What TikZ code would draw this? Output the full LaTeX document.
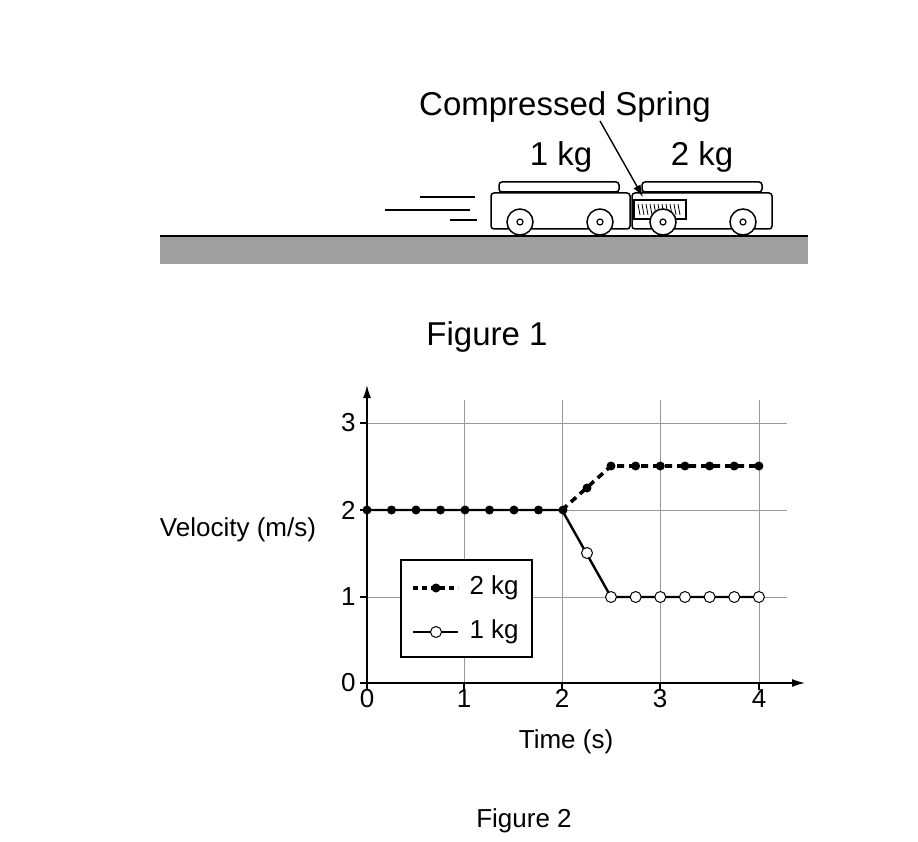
\documentclass[tikz,border=0pt]{standalone}
\usepackage{fontspec}
\setmainfont{Liberation Sans}
\usetikzlibrary{arrows.meta}
\begin{document}
\begin{tikzpicture}[x=1pt,y=-1pt,
 lbl/.style={font=\fontsize{33}{36}\selectfont},
 tk/.style={font=\fontsize{26}{30}\selectfont},
 wheel/.style={draw=black,fill=white,line width=1.5pt},
 cart/.style={draw=black,fill=white,line width=1.5pt,rounded corners=3pt},
 grid/.style={draw=gray!80,line width=1pt},
 full/.style={circle,fill=black,inner sep=0pt,minimum size=9pt},
 open/.style={circle,draw=black,fill=white,line width=1pt,inner sep=0pt,minimum size=11pt}]
\useasboundingbox (0,0) rectangle (918,842);
% ground
\fill[gray!75] (160,236) rectangle (808,264);
\draw[line width=1.5pt] (160,236) -- (808,236);
% speed lines
\draw[line width=1.2pt] (420,197) -- (475,197) (385,210) -- (470,210) (450,220) -- (477,220);
% carts
\draw[cart] (499,192) rectangle (619,182);
\draw[cart] (642,192) rectangle (762,182);
\draw[cart] (491,193) rectangle (630,229);
\draw[cart] (632,193) rectangle (772,229);
\draw[line width=1.2pt,fill=white] (634,200) rectangle (686,219);
\foreach \i in {0,...,10} \draw[line width=0.8pt] (638+4*\i,204) -- (640+4*\i,215);
\foreach \p in {520,600,663,743} {\draw[wheel] (\p,222) circle (13); \draw[line width=1.2pt] (\p,222) circle (3);}
% labels
\node[lbl] (cs) at (565,107) {Compressed Spring};
\node[lbl] (m1) at (561,157) {1 kg};
\node[lbl] (m2) at (702,157) {2 kg};
\coordinate (sp) at (643,197);
\draw[line width=1.4pt,-{Latex[length=12pt,width=8pt]}] (600,121) -- (sp);
\node[lbl] (f1) at (487,337) {Figure 1};
% graph grid
\foreach \x in {464,562,660,759} \draw[grid] (\x,400) -- (\x,683);
\foreach \y in {423,510,597} \draw[grid] (367,\y) -- (787,\y);
\draw[line width=1.5pt,-{Latex[length=13pt,width=8pt]}] (367,690) -- (367,385);
\draw[line width=1.5pt,-{Latex[length=13pt,width=8pt]}] (360,683) -- (805,683);
\foreach \v/\y in {0/683,1/597,2/510,3/423} {\draw[line width=1.2pt] (360,\y) -- (367,\y); \node[tk,anchor=east] at (359,\y) {\v};}
\foreach \v/\x in {0/367,1/464,2/562,3/660,4/759} {\draw[line width=1.2pt] (\x,683) -- (\x,690); \node[tk,anchor=north] at (\x,686) {\v};}
\node[tk] (vl) at (238,530) {Velocity (m/s)};
\node[tk] (tl) at (566,742) {Time (s)};
% data
\draw[line width=2.4pt] (367,510) -- (562,510) -- (611,597) -- (759,597);
\draw[line width=3.6pt,dash pattern=on 7pt off 5pt] (562,510) -- (611,466) -- (759,466);
\foreach \i in {0,...,8} \node[full] at (367+24.5*\i,510) {};
\node[full] at (587,488) {};
\foreach \i in {0,...,6} \node[full] at (611+24.65*\i,466) {};
\node[open] at (587,553) {};
\foreach \i in {0,...,6} \node[open] at (611+24.65*\i,597) {};
% legend
\draw[line width=1.4pt,fill=white] (401,560) rectangle (532,657);
\draw[line width=3.6pt,dash pattern=on 5pt off 4pt] (413,588) -- (458,588);
\node[full] at (436,588) {};
\node[tk,anchor=west] at (466,588) {2 kg};
\draw[line width=2.4pt] (413,632) -- (458,632);
\node[open] at (436,632) {};
\node[tk,anchor=west] at (466,632) {1 kg};
\node[tk] (f2) at (524,821) {Figure 2};
\end{tikzpicture}
\end{document}
